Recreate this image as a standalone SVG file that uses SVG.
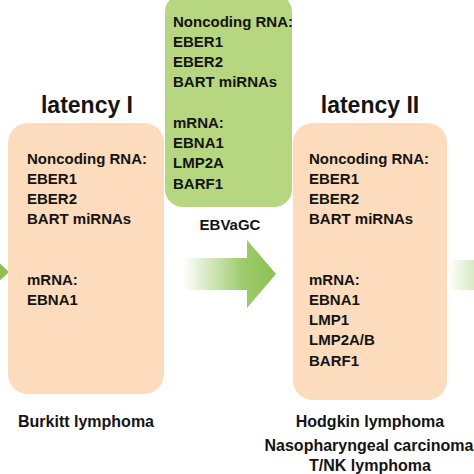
<svg xmlns="http://www.w3.org/2000/svg" width="474" height="474" viewBox="0 0 474 474">
<style>
text{font-family:"Liberation Sans",Arial,sans-serif;font-weight:bold;fill:#141414}
.t{font-size:23px;text-anchor:middle}
.b{font-size:15px}
.c{font-size:16px;text-anchor:middle}
.peach{fill:#fcdcbc}
.green{fill:#b6d77f}
</style>
<defs>
<linearGradient id="ag" x1="0" y1="0" x2="1" y2="0">
<stop offset="0" stop-color="#8cc152" stop-opacity="0"/>
<stop offset="0.65" stop-color="#8cc152" stop-opacity="0.85"/>
<stop offset="1" stop-color="#8cc152"/>
</linearGradient>
<linearGradient id="ag2" x1="0" y1="0" x2="1" y2="0">
<stop offset="0" stop-color="#8cc152" stop-opacity="0"/>
<stop offset="1" stop-color="#8cc152" stop-opacity="0.35"/>
</linearGradient>
</defs>
<g id="connectors">
<polygon points="-6,258 9,272 -6,286" fill="#8cc152"/>
<polygon points="183,258 247,258 247,240 276,274 247,308 247,290 183,290" fill="url(#ag)"/>
<rect x="449" y="260" width="25" height="30" fill="url(#ag2)"/>
</g>
<g id="latency1">
<text class="t" x="87" y="113">latency I</text>
<rect class="peach" x="8" y="123" width="156" height="271" rx="20"/>
<text class="b" x="27" y="164">Noncoding RNA:</text>
<text class="b" x="27" y="184">EBER1</text>
<text class="b" x="27" y="204">EBER2</text>
<text class="b" x="27" y="224">BART miRNAs</text>
<text class="b" x="27" y="285">mRNA:</text>
<text class="b" x="27" y="305">EBNA1</text>
<text class="c" x="86" y="427">Burkitt lymphoma</text>
</g>
<g id="ebvagc">
<rect class="green" x="165" y="-6" width="127" height="213" rx="18"/>
<text class="b" x="173" y="27">Noncoding RNA:</text>
<text class="b" x="173" y="47">EBER1</text>
<text class="b" x="173" y="67">EBER2</text>
<text class="b" x="173" y="87">BART miRNAs</text>
<text class="b" x="173" y="128">mRNA:</text>
<text class="b" x="173" y="148">EBNA1</text>
<text class="b" x="173" y="168">LMP2A</text>
<text class="b" x="173" y="189">BARF1</text>
<text class="b" x="230" y="230" text-anchor="middle">EBVaGC</text>
</g>
<g id="latency2">
<text class="t" x="370" y="113">latency II</text>
<rect class="peach" x="293" y="123" width="154" height="277" rx="20"/>
<text class="b" x="309" y="164">Noncoding RNA:</text>
<text class="b" x="309" y="184">EBER1</text>
<text class="b" x="309" y="204">EBER2</text>
<text class="b" x="309" y="224">BART miRNAs</text>
<text class="b" x="309" y="285">mRNA:</text>
<text class="b" x="309" y="305">EBNA1</text>
<text class="b" x="309" y="325">LMP1</text>
<text class="b" x="309" y="345">LMP2A/B</text>
<text class="b" x="309" y="366">BARF1</text>
<text class="c" x="370" y="427">Hodgkin lymphoma</text>
<text class="c" x="369" y="451">Nasopharyngeal carcinoma</text>
<text class="c" x="370" y="471">T/NK lymphoma</text>
</g>
</svg>
